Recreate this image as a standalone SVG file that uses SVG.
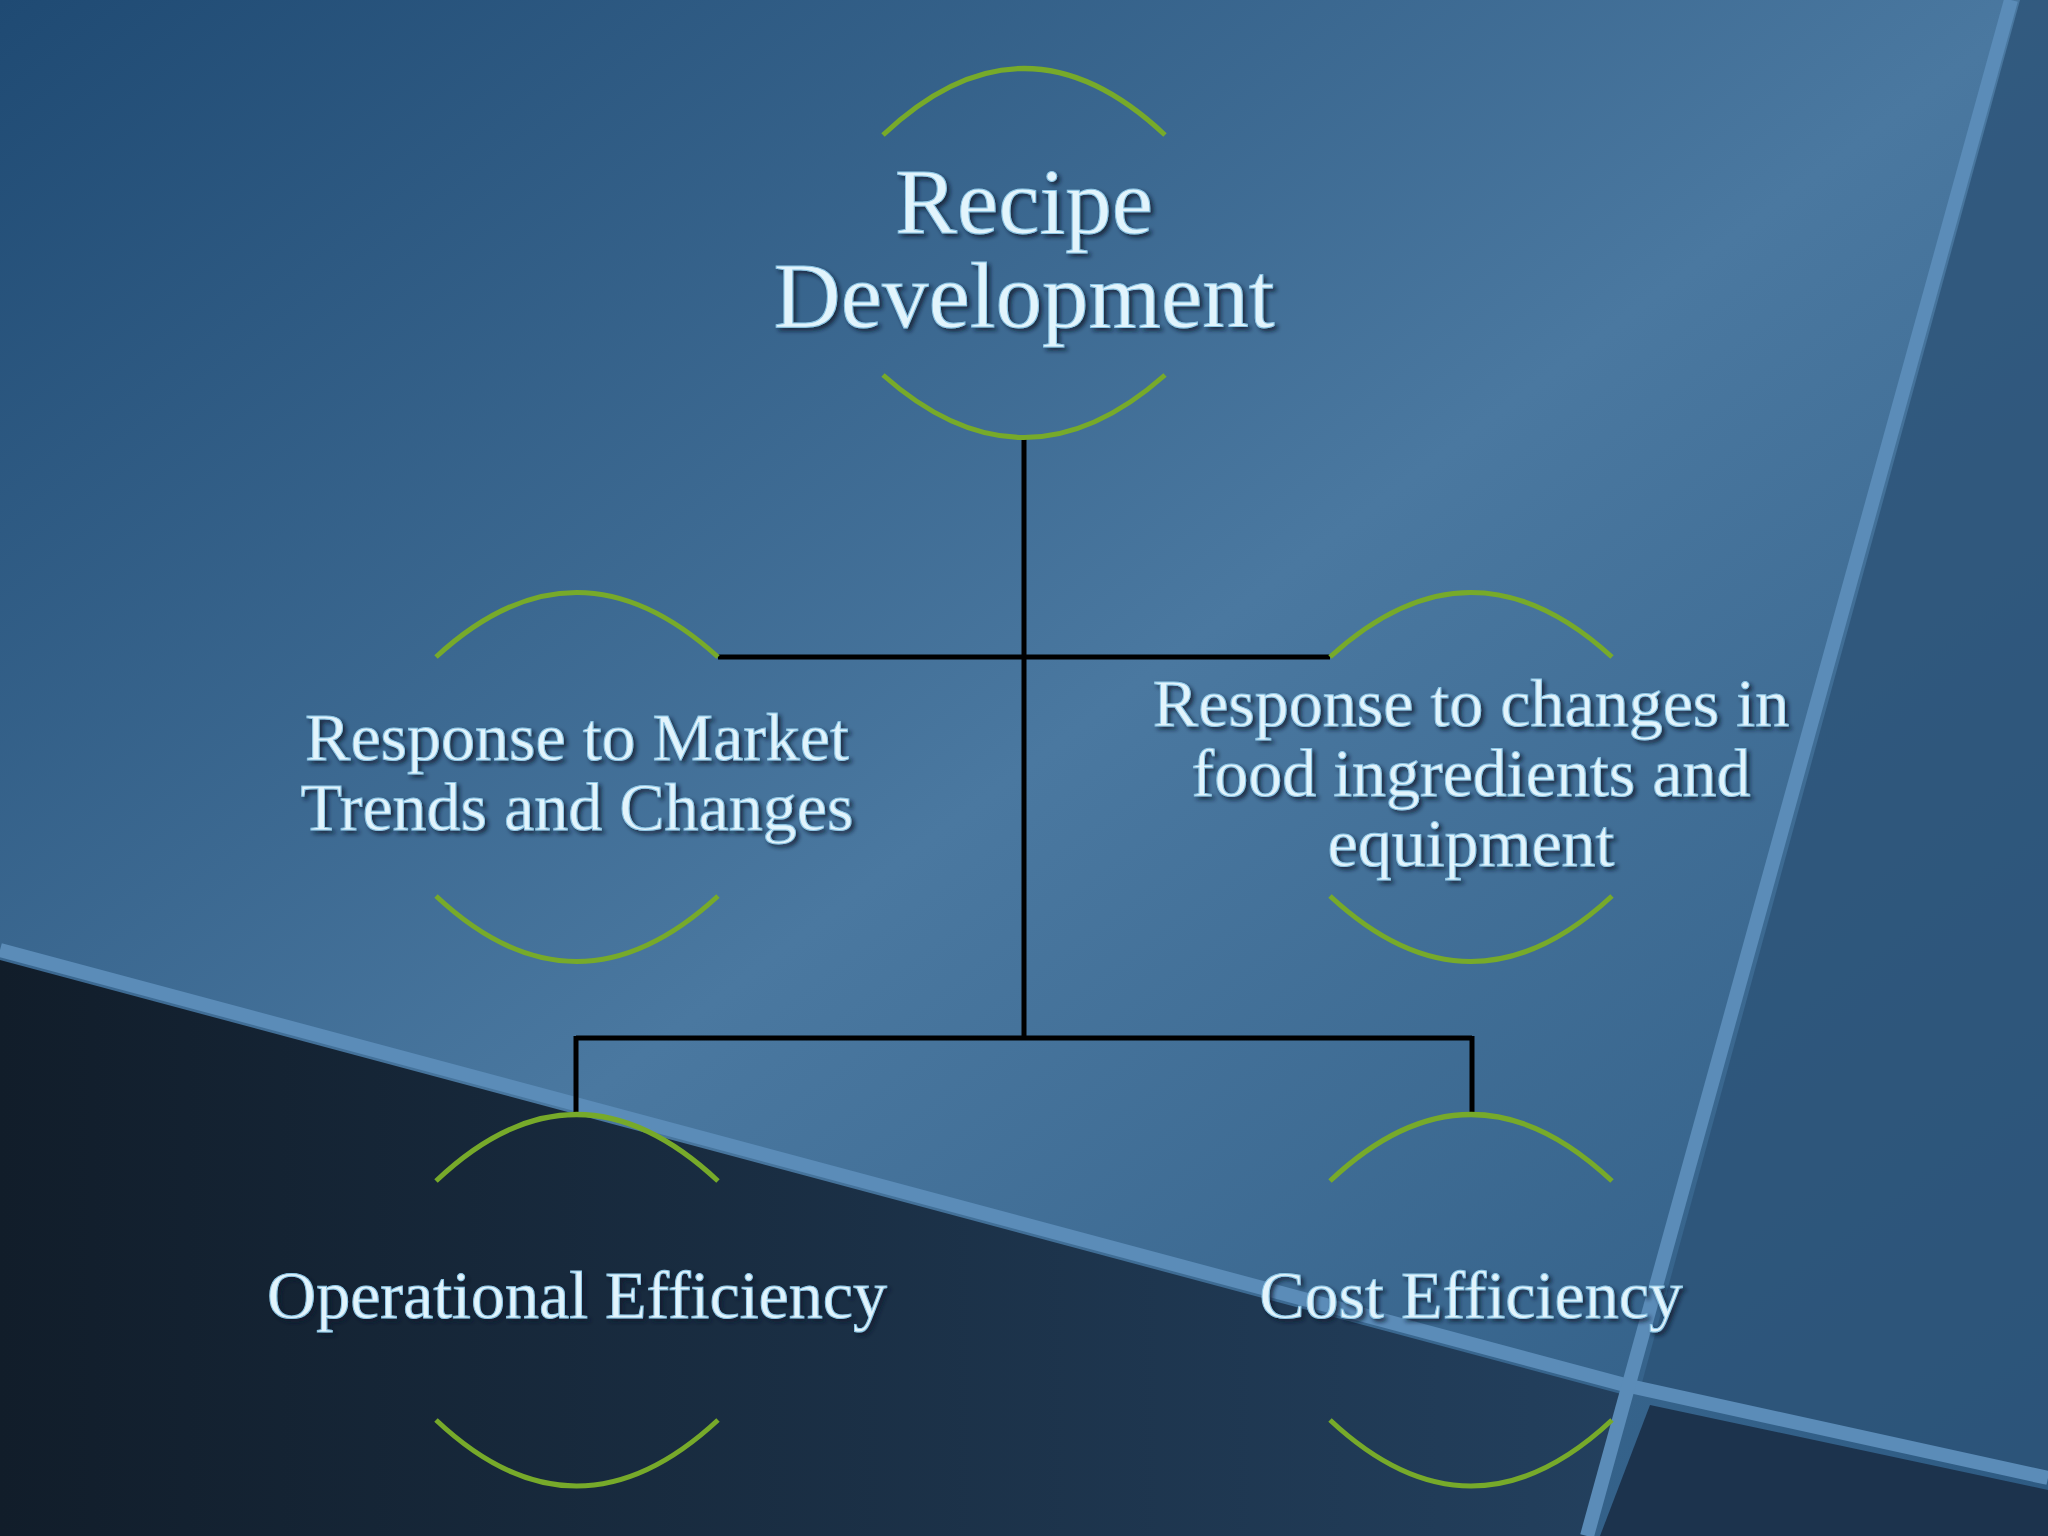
<svg xmlns="http://www.w3.org/2000/svg" width="2048" height="1536" viewBox="0 0 2048 1536">
<defs>
<linearGradient id="bg" x1="0" y1="0" x2="1" y2="1">
<stop offset="0" stop-color="#1f4a73"/><stop offset="0.5" stop-color="#4a78a0"/><stop offset="1" stop-color="#2d5a82"/>
</linearGradient>
<linearGradient id="dk" x1="0" y1="0" x2="1" y2="0">
<stop offset="0" stop-color="#111d2a"/><stop offset="1" stop-color="#23405e"/>
</linearGradient>
<filter id="sh"><feDropShadow dx="3" dy="3" stdDeviation="2" flood-color="#0a1a2a" flood-opacity="0.8"/></filter>
<style>
.arc{fill:none;stroke:#77aa2a;stroke-width:5}
.ln{fill:none;stroke:#000;stroke-width:5}
.t{font-family:"Liberation Serif",serif;fill:#e2f4fc;stroke:#8cc6e6;stroke-width:1;text-anchor:middle;filter:url(#sh)}
</style>
</defs>
<rect width="2048" height="1536" fill="url(#bg)"/>
<polygon points="0,960 1625,1395 1590,1536 0,1536" fill="url(#dk)"/>
<polygon points="2048,0 2048,1475 1640,1390 2020,0" fill="#2c5377" opacity="0.8"/>
<polygon points="1650,1405 2048,1490 2048,1536 1600,1536" fill="#1c334d"/>
<path d="M0,950 L1625,1385 L2048,1478" fill="none" stroke="#5b8cb8" stroke-width="14"/>
<path d="M2011,0 L1587,1536" fill="none" stroke="#5b8cb8" stroke-width="14"/>
<g id="connectors">
<path class="ln" d="M1024,437 V1038 M718,657 H1330 M576,1038 H1472 M576,1036 V1114 M1472,1036 V1114"/>
</g>
<g id="n1">
<path class="arc" d="M883,135 Q1024,2 1165,135"/>
<path class="arc" d="M883,375 Q1024,500 1165,375"/>
<text class="t" x="1024" y="233" font-size="93">Recipe</text>
<text class="t" x="1024" y="327" font-size="93">Development</text>
</g>
<g id="n2">
<path class="arc" d="M436,657 Q576,528 718,657"/>
<path class="arc" d="M436,896 Q576,1027 718,896"/>
<text class="t" x="577" y="760" font-size="68">Response to Market</text>
<text class="t" x="577" y="830" font-size="68">Trends and Changes</text>
</g>
<g id="n3">
<path class="arc" d="M1330,657 Q1471,528 1612,657"/>
<path class="arc" d="M1330,896 Q1471,1027 1612,896"/>
<text class="t" x="1471" y="726" font-size="68">Response to changes in</text>
<text class="t" x="1471" y="796" font-size="68">food ingredients and</text>
<text class="t" x="1471" y="866" font-size="68">equipment</text>
</g>
<g id="n4">
<path class="arc" d="M436,1181 Q576,1048 718,1181"/>
<path class="arc" d="M436,1420 Q576,1552 718,1420"/>
<text class="t" x="577" y="1318" font-size="68">Operational Efficiency</text>
</g>
<g id="n5">
<path class="arc" d="M1330,1181 Q1471,1048 1612,1181"/>
<path class="arc" d="M1330,1420 Q1471,1552 1612,1420"/>
<text class="t" x="1471" y="1318" font-size="68">Cost Efficiency</text>
</g>
</svg>
